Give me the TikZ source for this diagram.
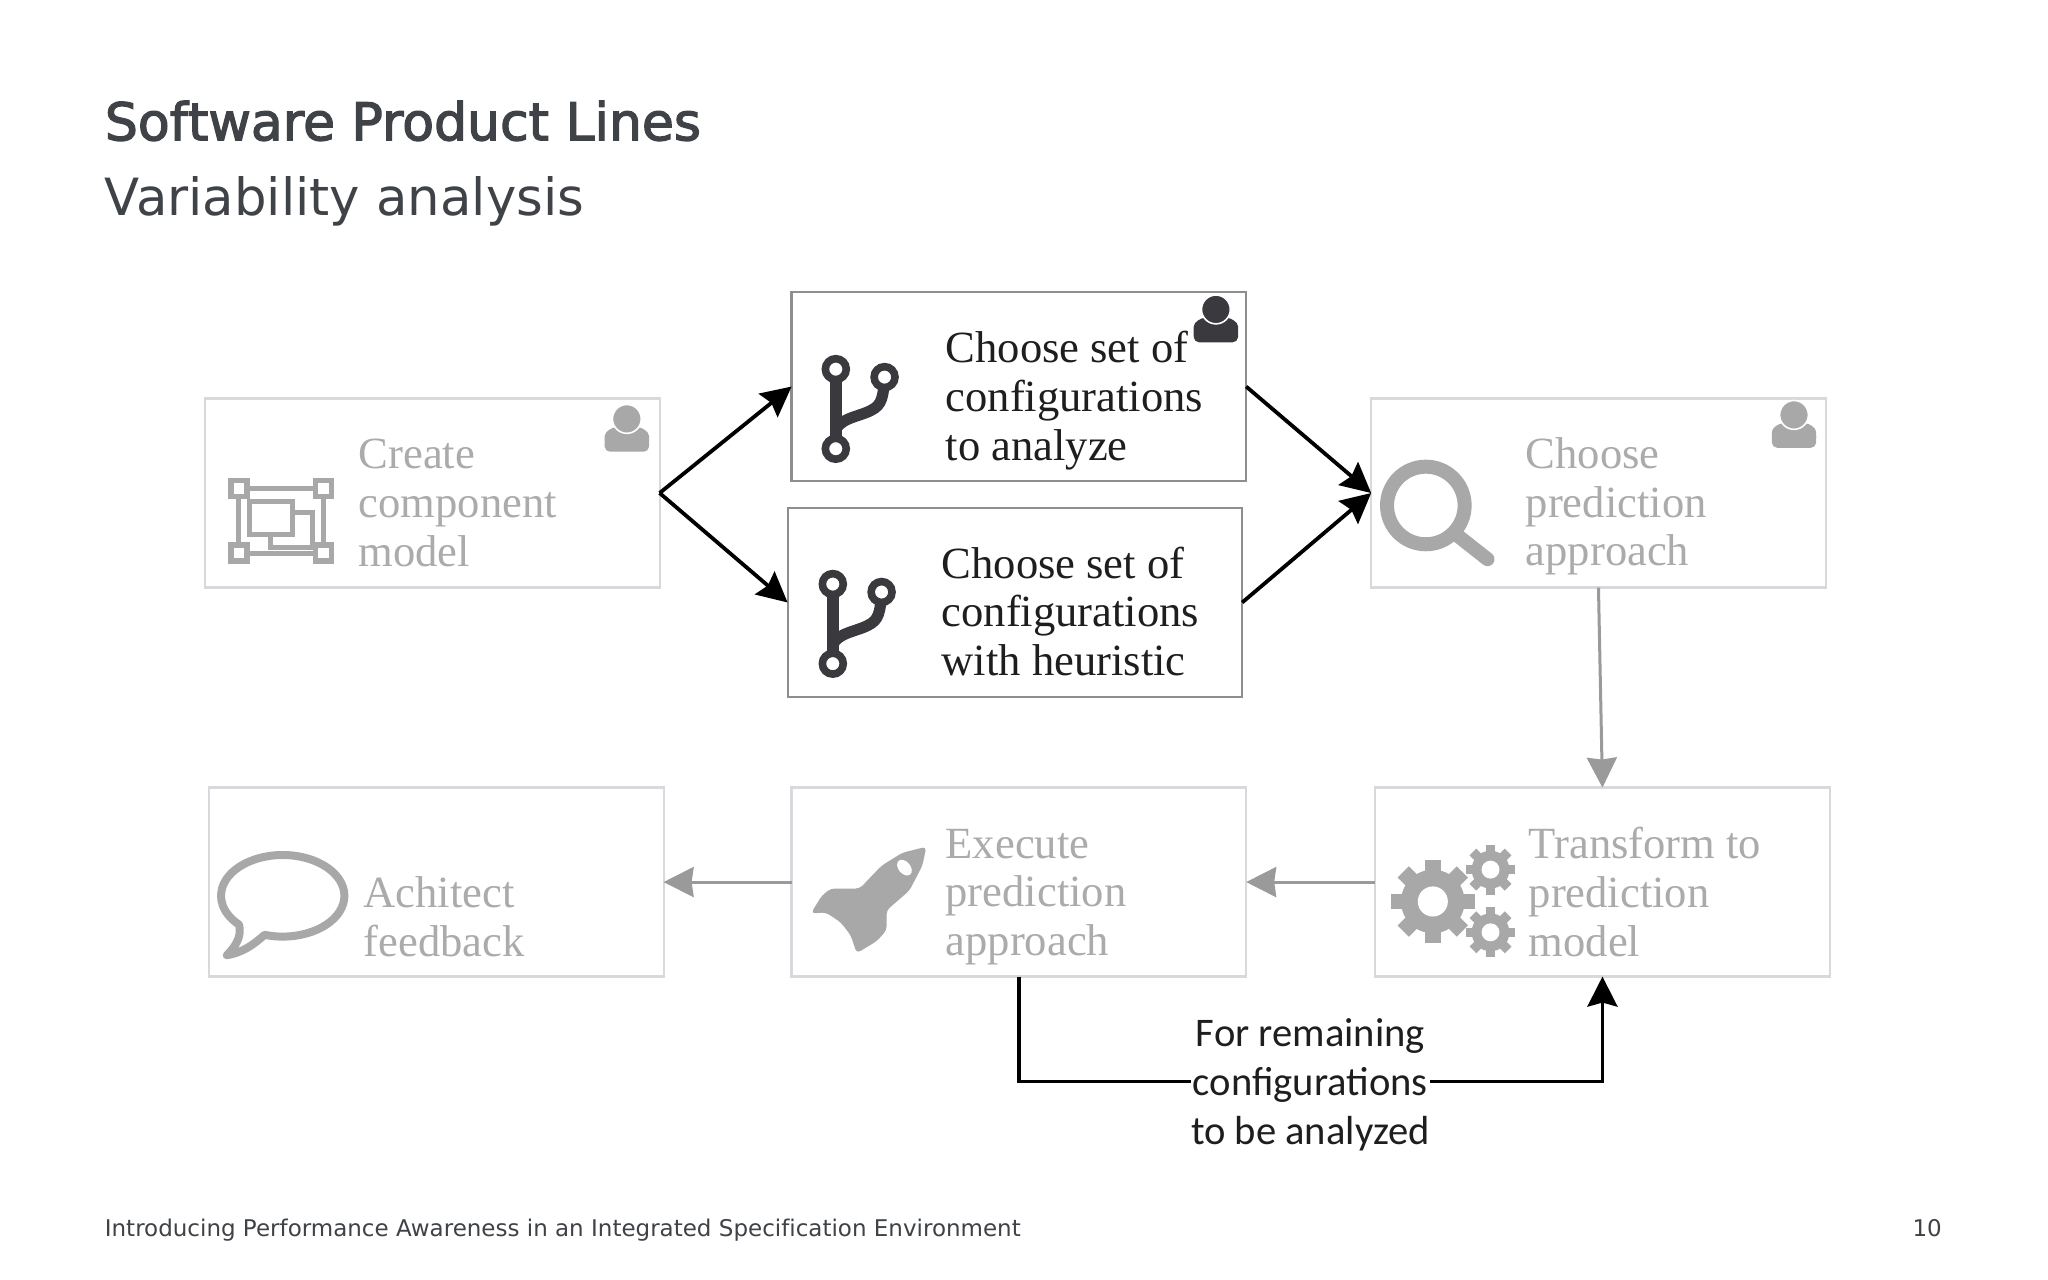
\documentclass[tikz,border=0pt]{standalone}
\usepackage{fontspec}
\usetikzlibrary{arrows.meta,calc}
\setmainfont{Liberation Serif}
\newfontfamily\slidefont[Ligatures=NoCommon]{DejaVu Sans}
\newfontfamily\slideboldfont[FakeBold=2.5,Ligatures=NoCommon]{DejaVu Sans}
\newfontfamily\notefont{Carlito}
\definecolor{inkdark}{HTML}{1E1E1E}
\definecolor{inkgray}{HTML}{ABABAB}
\definecolor{icdark}{HTML}{3A3A3E}
\definecolor{icgray}{HTML}{A8A8A8}
\definecolor{slidetext}{HTML}{3F4246}
\definecolor{boxlight}{HTML}{D9D9DD}
\definecolor{boxdark}{HTML}{8E8E8E}
\definecolor{arrowgray}{HTML}{9A9A9A}
\tikzset{
  box/.style={draw,rectangle,minimum width=227.3pt,minimum height=94.5pt,inner sep=0pt,outer sep=0pt,line width=1.1pt},
  lightbox/.style={box,draw=boxlight},
  darkbox/.style={box,draw=boxdark},
  boxtext/.style={anchor=west,align=left,inner sep=0pt,font=\fontsize{22.3}{24.4}\selectfont},
  lighttext/.style={boxtext,text=inkgray},
  darktext/.style={boxtext,text=inkdark},
  blackarrow/.style={draw=black,line width=1.9pt,-{Stealth[length=15pt,width=15pt,inset=2pt]}},
  grayarrow/.style={draw=arrowgray,line width=1.5pt,-{Stealth[length=15pt,width=15pt,inset=1pt]}},
  slidetitle/.style={anchor=base west,inner sep=0pt,text=slidetext},
  pics/person/.style={code={
    \fill[#1,rounded corners=2.5pt] (-22,33) -- (-22.5,22) .. controls (-22,12) and (-14,9) .. (-9,8) -- (9,8) .. controls (14,9) and (22,12) .. (22.5,22) -- (22,33) -- cycle;
    \fill[#1,draw=white,line width=.8pt] (0,0) circle (14.5);
  }},
  pics/branch/.style={code={
    \draw[#1,line width=5.8pt] (0,13) -- (0,67);
    \draw[#1,line width=5.6pt] (48,20) .. controls (46,36) and (42,40) .. (24,46) .. controls (12,50) and (6,52) .. (0,60);
    \draw[#1,line width=3.8pt,fill=white] (0,0) circle (10.5);
    \draw[#1,line width=3.8pt,fill=white] (49,8) circle (10.5);
    \draw[#1,line width=3.8pt,fill=white] (0,80) circle (10.5);
  }},
  pics/gearicon/.style={code={
    \fill[icgray] circle ({#1*.76});
    \foreach \a in {0,45,90,135} {\fill[icgray,rotate=\a] ({-#1*.19},{-#1}) rectangle ({#1*.19},{#1});}
    \fill[white] circle ({#1*.36});
  }}
}
\begin{document}
\begin{tikzpicture}[x=0.4975pt,y=-0.4975pt]
\useasboundingbox[fill=white] (0,0) rectangle (2058.3,1286.4);

% slide text
\node[slidetitle,font=\slideboldfont\fontsize{26.0}{30}\selectfont] (title) at (105,141) {Sof\kern0pt tware Product Lines};
\node[slidetitle,font=\slidefont\fontsize{25.65}{30}\selectfont] (subtitle) at (105,217) {Variability analysis};
\node[slidetitle,font=\slidefont\fontsize{11.5}{14}\selectfont] (footer) at (105,1243) {Introducing Performance Awareness in an Integrated Specification Environment};
\node[slidetitle,anchor=base east,font=\slidefont\fontsize{11.5}{14}\selectfont] (pageno) at (1952,1243) {10};

% boxes
\node[lightbox] (create) at (434.5,495.5) {};
\node[darkbox] (top) at (1024,388.5) {};
\node[darkbox] (heur) at (1020,605.5) {};
\node[lightbox] (choose) at (1606.5,495.5) {};
\node[lightbox] (feedback) at (438.5,886.5) {};
\node[lightbox] (exec) at (1024,886.5) {};
\node[lightbox] (trans) at (1610.5,886.5) {};

% box texts
\node[lighttext] (tcreate) at (360,505.5) {Create\\component\\model};
\node[darktext] (ttop) at (950,402.5) {Choose set of\\configurations\\to analyze};
\node[darktext] (theur) at (946,614.5) {Choose set of\\configurations\\with heuristic};
\node[lighttext] (tchoose) at (1533,509) {Choose\\prediction\\approach};
\node[lighttext] (tfeedback) at (365,921) {Achitect\\feedback};
\node[lighttext] (texec) at (950,901.5) {Execute\\prediction\\approach};
\node[lighttext] (ttrans) at (1536,896.5) {Transform to\\prediction\\model};

% note label
\node[font=\notefont\fontsize{20.3}{24.4}\selectfont,text=inkdark,align=center,inner sep=0pt,fill=white] (note) at (1317,1087) {\rule{0pt}{17.2pt}For remaining\\configurations\\to be analyzed};

% connectors
\draw[blackarrow] (create.east) -- (top.west);
\draw[blackarrow] (create.east) -- (heur.west);
\draw[blackarrow] (top.east) -- (choose.west);
\draw[blackarrow] (heur.east) -- (choose.west);
\draw[grayarrow] (choose.south) -- (trans.north);
\draw[grayarrow] (trans.west) -- (exec.east);
\draw[grayarrow] (exec.west) -- (feedback.east);
\draw[draw=black,line width=1.9pt] (exec.south) |- (note.west);
\draw[blackarrow] (note.east) -| (trans.south);

% icons
\pic at (630,421) {person=icgray};
\pic at (1222,311) {person=icdark};
\pic at (1803,417) {person=icgray};
\pic at (840,371) {branch=icdark};
\pic at (837,587) {branch=icdark};

% component model icon
\begin{scope}[draw=icgray,line width=2.5pt]
  \draw (240,491) rectangle (325,556);
  \draw (272,515) rectangle (314,550);
  \draw[fill=white] (251,504) rectangle (294,537);
  \foreach \cx/\cy in {240/491,325/491,240/556,325/556}
    \draw[fill=white,line width=2.8pt] (\cx-8,\cy-8) rectangle (\cx+8,\cy+8);
\end{scope}

% magnifier
\draw[icgray,line width=7pt] (1433,508) circle (39);
\draw[icgray,line width=7pt,line cap=round] (1462,536) -- (1495,562);

% speech bubble
\draw[icgray,line width=4pt,line join=round,fill=white]
  (266,939.5) arc (107:-225:62 and 41) .. controls (243,940) and (238,950) .. (228,960) .. controls (245,957) and (255,949) .. (266,939.5) -- cycle;

% rocket
\fill[icgray,rounded corners=2pt] (931,851) -- (907,857) -- (886,870) -- (864,893) -- (835,893) -- (826,900) -- (815,918)
  -- (830,917) -- (845,927) -- (855,940) -- (861,958) -- (881,946) -- (891,935) -- (891,915) -- (914,895) -- (927,870) -- cycle;
\fill[white,rotate around={40:(909,872)}] (909,872) ellipse (6 and 9);

% gears
\pic at (1440,906) {gearicon=42};
\pic at (1498,874) {gearicon=25};
\pic at (1498,937) {gearicon=25};
\end{tikzpicture}
\end{document}
